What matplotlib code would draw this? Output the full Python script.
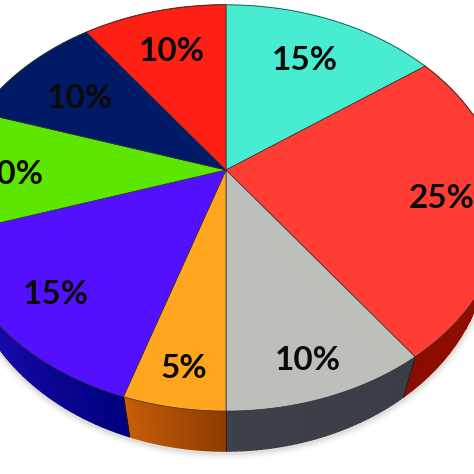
import numpy as np
import matplotlib
matplotlib.use("Agg")
import matplotlib.pyplot as plt
from matplotlib.colors import to_rgb

# ======================================
# DATA
# ======================================

values = [15, 25, 10, 5, 15, 10, 10, 10]
labels = ["15%", "25%", "10%", "5%", "15%", "10%", "10%", "10%"]

top_colors = ["#48ecd0", "#ff3d35", "#bcbfba", "#ffa51e", "#5210ff", "#5ce600", "#001a66", "#ff2015"]
wall_start = ["#48ecd0", "#a81000", "#3a3d45", "#8f3a02", "#00007e", "#3c9600", "#00103f", "#a81000"]
wall_end = ["#48ecd0", "#8a0c00", "#3e4149", "#c45e08", "#2a10c8", "#3c9600", "#00103f", "#a81000"]

# label centres, in picture pixels
label_x = [305, 442, 308, 184, 56, 11, 80, 172]
label_y = [60, 198, 361, 369, 295, 174, 98, 51]

# ======================================
# PROJECTION OF THE PIE PLANE
# ======================================

CX, CY = 226, 170
RX, RY = 273, 196
PERSP = 0.187
DEPTH = 40
SHRINK = 0.94


def project(theta, r=1.0):
    u = r * np.sin(theta)
    v = r * np.cos(theta)
    d = 1 + PERSP * v
    return CX + RX * u / d, CY - RY * v / d


def lower(x, y):
    return CX + (x - CX) * SHRINK, y + DEPTH


fig = plt.figure(figsize=(4.74, 4.74), dpi=100)
ax = fig.add_axes([0, 0, 1, 1])
ax.set_xlim(0, 474)
ax.set_ylim(474, 0)
ax.axis("off")

edges = np.cumsum([0] + values) / sum(values) * 2 * np.pi

# soft shadow under the rim
t = np.linspace(np.pi / 2, 3 * np.pi / 2, 200)
sx, sy = lower(*project(t))
for lw, a in [(9, 0.04), (6, 0.06), (3, 0.10)]:
    ax.plot(sx, sy + 2, color="#606050", lw=lw, alpha=a, zorder=1, solid_capstyle="round")

# side walls, drawn in thin strips for the gradient
for i in range(len(values)):
    t = np.linspace(edges[i], edges[i + 1], 40)
    c0, c1 = np.array(to_rgb(wall_start[i])), np.array(to_rgb(wall_end[i]))
    x, y = project(t)
    bx, by = lower(x, y)
    for j in range(len(t) - 1):
        col = c0 + (c1 - c0) * j / (len(t) - 2)
        ax.fill([x[j], x[j + 1], bx[j + 1], bx[j]], [y[j], y[j + 1], by[j + 1], by[j]],
                facecolor=col, edgecolor=col, lw=1.0, zorder=2)

for i in range(len(values)):
    x, y = project(edges[i])
    bx, by = lower(x, y)
    ax.plot([x, bx], [y, by], color="#301000", lw=0.6, zorder=2.5)

# top surface
for i in range(len(values)):
    t = np.linspace(edges[i], edges[i + 1], 80)
    x, y = project(t)
    ax.fill(np.r_[CX, x], np.r_[CY, y], facecolor=top_colors[i],
            edgecolor="#303030", lw=0.5, zorder=3)

for i in range(len(values)):
    ax.text(label_x[i], label_y[i], labels[i], fontsize=24, family="Lato", fontweight="bold",
            color="#0a0a0a", ha="center", va="center", zorder=4)

fig.savefig("out.png", dpi=100)
